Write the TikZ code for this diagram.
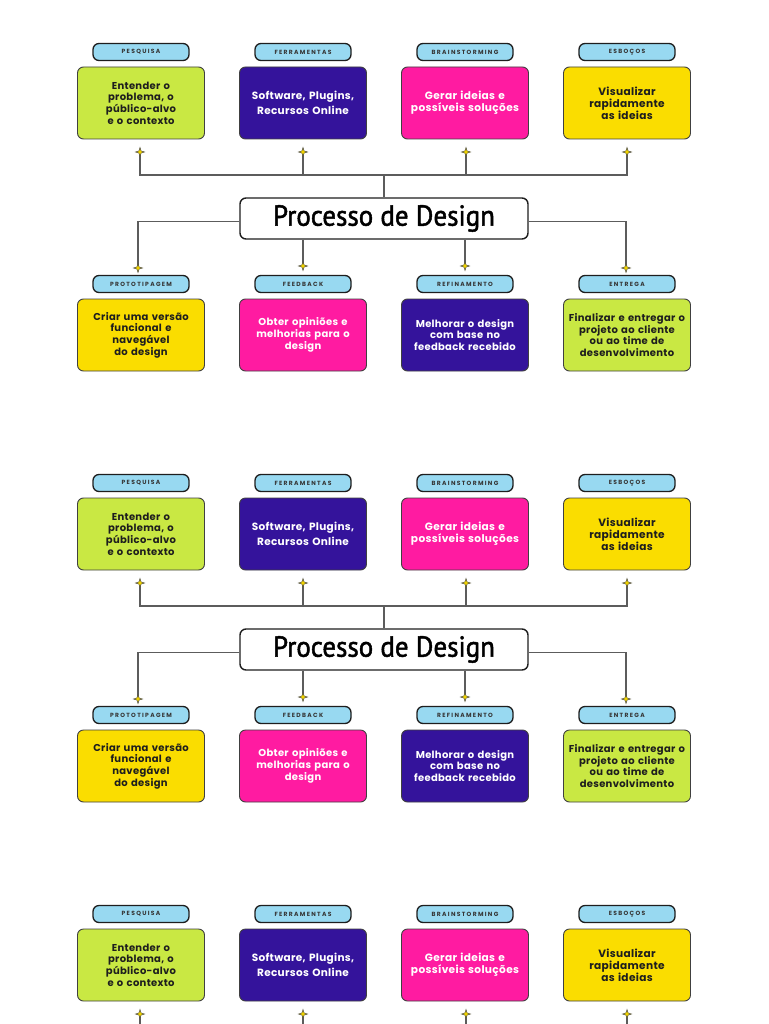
\documentclass[tikz,border=0pt]{standalone}
\usepackage{fontspec}
\setmainfont{Poppins}
\newfontfamily\titlefont{PT Sans}[FakeBold=1.6,FakeStretch=0.93]
\definecolor{cLime}{HTML}{C9E843}
\definecolor{cIndigo}{HTML}{34139B}
\definecolor{cPink}{HTML}{FF1BA1}
\definecolor{cYellow}{HTML}{FADD00}
\definecolor{cPill}{HTML}{98D9F1}
\definecolor{cDark}{HTML}{1E1E1E}
\definecolor{cLine}{HTML}{5C5C5C}
\definecolor{cStar}{HTML}{F2D500}
\tikzset{
  card/.style={draw=cDark!85, line width=0.9pt, rounded corners=6pt,
    minimum width=127pt, minimum height=72pt, text width=124pt, align=center,
    inner sep=1pt, font=\fontsize{10}{11.7}\selectfont\bfseries\addfontfeature{LetterSpace=3}},
  darktext/.style={text=cDark},
  lighttext/.style={text=white},
  pill/.style={draw=cDark, line width=1.3pt, fill=cPill, rounded corners=6pt,
    minimum width=96pt, minimum height=17pt, inner sep=0pt,
    font=\fontsize{6}{6}\selectfont\bfseries\addfontfeature{LetterSpace=22}, text=cDark!90},
  titlebox/.style={draw=cDark, line width=1.4pt, fill=white, rounded corners=6pt,
    minimum width=288pt, minimum height=41pt, inner sep=0pt,
    font=\titlefont\fontsize{29}{30}\selectfont, text=black},
  conn/.style={draw=cLine, line width=1.2pt},
  spark/.pic={\draw[fill=cStar, draw=cDark!80, line width=0.5pt]
    (0,4.5) -- (1.1,1.1) -- (4.5,0) -- (1.1,-1.1) -- (0,-4.5) -- (-1.1,-1.1) -- (-4.5,0) -- (-1.1,1.1) -- cycle;}
}
\begin{document}
\begin{tikzpicture}[x=1pt,y=-1pt]
\useasboundingbox (0,0) rectangle (768,1024);
\clip (0,0) rectangle (768,1024);
\fill[white] (0,0) rectangle (768,1024);
\foreach \k/\o in {1/0,2/431,3/862}{
  % top row
  \node[pill] (pa\k) at (141,52+\o) {PESQUISA};
  \node[pill] (pb\k) at (303,52+\o) {FERRAMENTAS};
  \node[pill] (pc\k) at (465,52+\o) {BRAINSTORMING};
  \node[pill] (pd\k) at (627,52+\o) {ESBOÇOS};
  \node[card,fill=cLime,darktext] (ba\k) at (141,103+\o) {Entender o\\problema, o\\público-alvo\\e o contexto};
  \node[card,fill=cIndigo,lighttext] (bb\k) at (303,103+\o) {\fontsize{10.5}{12}\selectfont Software, Plugins,\\[3.5pt]Recursos Online};
  \node[card,fill=cPink,lighttext] (bc\k) at (465,103+\o) {\fontsize{10.6}{12}\selectfont Gerar ideias e\\possíveis soluções};
  \node[card,fill=cYellow,darktext] (bd\k) at (627,103+\o) {\fontsize{10.6}{12.4}\selectfont Visualizar\\rapidamente\\as ideias};
  \coordinate (da\k) at (140,152+\o);
  \coordinate (db\k) at (303,152+\o);
  \coordinate (dc\k) at (466,152+\o);
  \coordinate (dd\k) at (627,152+\o);
}
\foreach \k/\o in {1/0,2/431}{
  \node[titlebox] (tt\k) at (384,218.5+\o) {Processo de Design};
  \coordinate (jj\k) at (384,175+\o);
  \draw[conn] (tt\k.north) -- (jj\k);
  \draw[conn] (da\k) |- (jj\k);
  \draw[conn] (dd\k) |- (jj\k);
  \draw[conn] (db\k) -- (db\k |- jj\k);
  \draw[conn] (dc\k) -- (dc\k |- jj\k);
  % bottom row
  \coordinate (ea\k) at (138,268+\o);
  \coordinate (eb\k) at (303,266+\o);
  \coordinate (ec\k) at (465,266+\o);
  \coordinate (ed\k) at (626,268+\o);
  \draw[conn] ([yshift=-3pt]tt\k.west) -| (ea\k);
  \draw[conn] ([yshift=-3pt]tt\k.east) -| (ed\k);
  \draw[conn] (tt\k.south -| eb\k) -- (eb\k);
  \draw[conn] (tt\k.south -| ec\k) -- (ec\k);
  \node[pill] (qa\k) at (141,284+\o) {PROTOTIPAGEM};
  \node[pill] (qb\k) at (303,284+\o) {FEEDBACK};
  \node[pill] (qc\k) at (465,284+\o) {REFINAMENTO};
  \node[pill] (qd\k) at (627,284+\o) {ENTREGA};
  \node[card,fill=cYellow,darktext] (ca\k) at (141,335+\o) {Criar uma versão\\funcional e\\navegável\\do design};
  \node[card,fill=cPink,lighttext] (cb\k) at (303,335+\o) {Obter opiniões e\\melhorias para o\\design};
  \node[card,fill=cIndigo,lighttext] (cc\k) at (465,335+\o) {Melhorar o design\\com base no\\feedback recebido};
  \node[card,fill=cLime,darktext] (cd\k) at (627,335+\o) {Finalizar e entregar o\\projeto ao cliente\\ou ao time de\\desenvolvimento};
  \foreach \n in {ea,eb,ec,ed}{\pic at (\n\k) {spark};}
}
% third copy: lines leave the page
\coordinate (jj3) at (384,1037);
\draw[conn] (da3) -- (da3 |- jj3);
\draw[conn] (db3) -- (db3 |- jj3);
\draw[conn] (dc3) -- (dc3 |- jj3);
\draw[conn] (dd3) -- (dd3 |- jj3);
\foreach \k in {1,2,3}{
  \foreach \n in {da,db,dc,dd}{\pic at (\n\k) {spark};}
}
\end{tikzpicture}
\end{document}
